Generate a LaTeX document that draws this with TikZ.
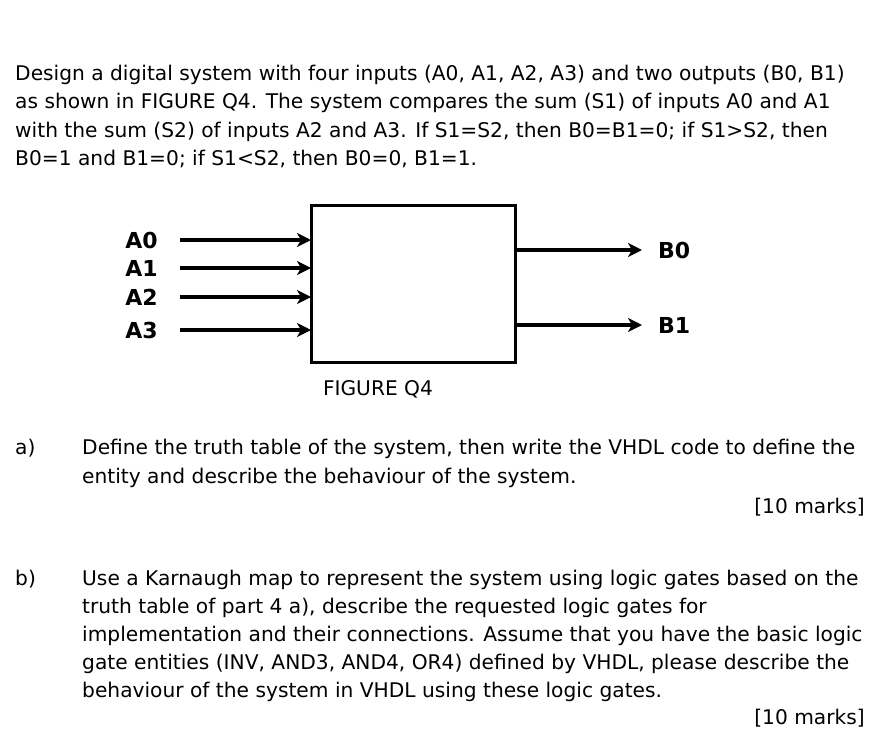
\documentclass[tikz,border=0pt]{standalone}
\usepackage{fontspec}
\setmainfont{DejaVu Sans}
\usetikzlibrary{arrows.meta}
\begin{document}
\begin{tikzpicture}[x=1pt,y=-1pt,
  txt/.style={anchor=base west,inner sep=0pt,font=\fontsize{20.2}{22}\selectfont},
  lbl/.style={anchor=base east,inner sep=0pt,font=\fontsize{22}{24}\selectfont\bfseries},
  arr/.style={line width=3.5pt,-{Stealth[length=14pt,width=14pt,inset=4pt]}}]
\useasboundingbox (0,0) rectangle (892,753);
\node[txt] (l1) at (15,80) {Design a digital system with four inputs (A0, A1, A2, A3) and two outputs (B0, B1)};
\node[txt] (l2) at (15,108) {as shown in FIGURE Q4. The system compares the sum (S1) of inputs A0 and A1};
\node[txt] (l3) at (15,137) {with the sum (S2) of inputs A2 and A3. If S1=S2, then B0=B1=0; if S1>S2, then};
\node[txt] (l4) at (15,165) {B0=1 and B1=0; if S1<S2, then B0=0, B1=1.};
\node[draw,line width=3pt,minimum width=204pt,minimum height=157pt,inner sep=0pt] (box) at (413,283.5) {};
\foreach \n/\yy in {0/240,1/268,2/297,3/330}{
  \node[lbl] (a\n) at (158,\yy+8) {A\n};
  \coordinate (s\n) at (180,\yy);
  \coordinate (e\n) at (311,\yy);
  \draw[arr] (s\n) -- (e\n);
}
\coordinate (o0) at (515,250); \coordinate (p0) at (642,250);
\coordinate (o1) at (515,325); \coordinate (p1) at (642,325);
\draw[arr] (o0) -- (p0); \draw[arr] (o1) -- (p1);
\node[lbl,anchor=base west] (b0) at (658,258) {B0};
\node[lbl,anchor=base west] (b1) at (658,333) {B1};
\node[txt,anchor=base] (fig) at (378,395) {FIGURE Q4};
\node[txt] (ma) at (15,454) {a)};
\node[txt] (a1) at (82,454) {Define the truth table of the system, then write the VHDL code to define the};
\node[txt] (a2) at (82,483) {entity and describe the behaviour of the system.};
\node[txt,anchor=base east] (m1) at (865,513) {[10 marks]};
\node[txt] (mb) at (15,585) {b)};
\node[txt] (b1l) at (82,585) {Use a Karnaugh map to represent the system using logic gates based on the};
\node[txt] (b2l) at (82,613) {truth table of part 4 a), describe the requested logic gates for};
\node[txt] (b3l) at (82,641) {implementation and their connections. Assume that you have the basic logic};
\node[txt] (b4l) at (82,669) {gate entities (INV, AND3, AND4, OR4) defined by VHDL, please describe the};
\node[txt] (b5l) at (82,697) {behaviour of the system in VHDL using these logic gates.};
\node[txt,anchor=base east] (m2) at (865,724) {[10 marks]};
\end{tikzpicture}
\end{document}
